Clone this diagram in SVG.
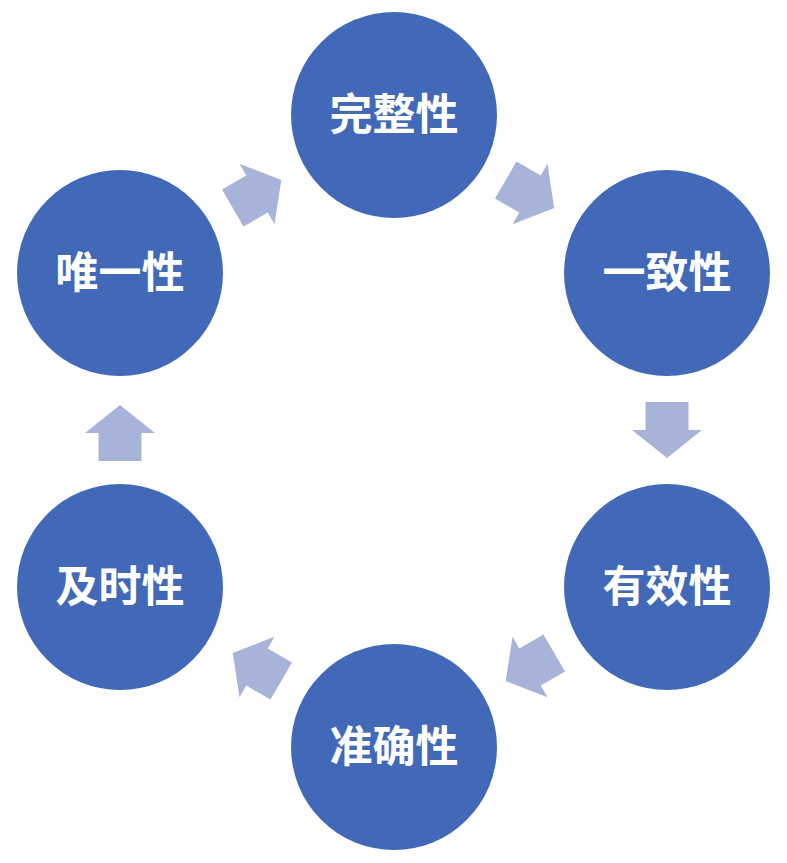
<svg xmlns="http://www.w3.org/2000/svg" width="787" height="863" viewBox="0 0 787 863">
<style>
.node circle{fill:#4169B8;}
.node text{fill:#ffffff;font-family:"Noto Sans CJK SC","Noto Sans",sans-serif;font-weight:bold;font-size:43px;text-anchor:middle;}
.arrow{fill:#A8B3DA;}
</style>
<defs>
<polygon id="arr" points="-28,-21.5 0,-21.5 0,-35 28,0 0,35 0,21.5 -28,21.5"/>
</defs>
<rect width="787" height="863" fill="#ffffff"/>
<g id="connectors">
<use href="#arr" class="arrow" transform="translate(530,194) rotate(30)"/>
<use href="#arr" class="arrow" transform="translate(667,430) rotate(90)"/>
<use href="#arr" class="arrow" transform="translate(530,667) rotate(150)"/>
<use href="#arr" class="arrow" transform="translate(257,667) rotate(210)"/>
<use href="#arr" class="arrow" transform="translate(120,433) rotate(-90)"/>
<use href="#arr" class="arrow" transform="translate(257,194) rotate(-30)"/>
</g>
<g id="n1" class="node"><circle cx="394" cy="115" r="103"/><text x="394" y="130">完整性</text></g>
<g id="n2" class="node"><circle cx="667" cy="273" r="103"/><text x="667" y="288">一致性</text></g>
<g id="n3" class="node"><circle cx="667" cy="587" r="103"/><text x="667" y="602">有效性</text></g>
<g id="n4" class="node"><circle cx="394" cy="747" r="103"/><text x="394" y="762">准确性</text></g>
<g id="n5" class="node"><circle cx="120" cy="587" r="103"/><text x="120" y="602">及时性</text></g>
<g id="n6" class="node"><circle cx="120" cy="273" r="103"/><text x="120" y="288">唯一性</text></g>
</svg>
